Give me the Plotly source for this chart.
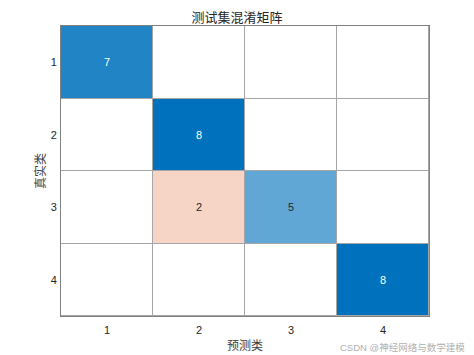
import plotly.graph_objects as go

classes = [1, 2, 3, 4]
class_labels = ["1", "2", "3", "4"]
# rows = true class, cols = predicted class
counts = [
    [7, 0, 0, 0],
    [0, 8, 0, 0],
    [0, 2, 5, 0],
    [0, 0, 0, 8],
]
title = "测试集混淆矩阵"
xlabel = "预测类"
ylabel = "真实类"
watermark = "CSDN @神经网络与数学建模"

vmax = max(max(r) for r in counts)
# signed value: diagonal positive (blue), off-diagonal negative (red)
z = [[(v if i == j else -v) for j, v in enumerate(row)] for i, row in enumerate(counts)]

colorscale = [
    [0.0, "rgb(217,83,25)"],
    [0.5, "rgb(255,255,255)"],
    [1.0, "rgb(0,114,189)"],
]

fig = go.Figure(go.Heatmap(
    x=classes, y=classes, z=z,
    zmin=-vmax, zmax=vmax, colorscale=colorscale,
    showscale=False, xgap=1, ygap=1, hoverinfo="skip",
))

cjk = "Noto Sans CJK SC"
annotations = []
for i, row in enumerate(counts):
    for j, v in enumerate(row):
        if v == 0:
            continue
        color = "white" if (i == j and v / vmax > 0.7) else "#262626"
        annotations.append(dict(x=classes[j], y=classes[i], text=str(v), showarrow=False,
                                font=dict(size=11, color=color, family="Arial")))
# axis titles
annotations.append(dict(x=0.5, y=0, xref="paper", yref="paper", xanchor="center", yanchor="middle",
                        yshift=-28, text=xlabel, showarrow=False,
                        font=dict(size=12, color="#404040", family=cjk)))
annotations.append(dict(x=0, y=0.5, xref="paper", yref="paper", xanchor="center", yanchor="middle",
                        xshift=-22, text=ylabel, textangle=-90, showarrow=False,
                        font=dict(size=12, color="#404040", family=cjk)))
annotations.append(dict(x=1, y=0, xref="paper", yref="paper", xanchor="right", yanchor="middle",
                        xshift=38, yshift=-31, text=watermark, showarrow=False,
                        font=dict(size=9.5, color="#b0b0b0", family="Arial, " + cjk)))
fig.update_layout(annotations=annotations)

fig.update_layout(
    width=474, height=355,
    margin=dict(l=61, r=45, t=26, b=39),
    paper_bgcolor="white", plot_bgcolor="#a6a6a6",
    title=dict(text=title, x=0.5, xanchor="center", yref="container", y=1 - 17 / 355, yanchor="middle",
               font=dict(size=13, color="#262626", family=cjk)),
    font=dict(family="Arial", color="#262626"),
)
fig.update_xaxes(tickfont=dict(size=11), showgrid=False, zeroline=False, ticks="", automargin=False,
                 tickvals=classes, ticktext=class_labels, range=[0.5, 4.5], ticklabelstandoff=4,
                 showline=True, linecolor="#808080", linewidth=1, mirror=True)
fig.update_yaxes(tickfont=dict(size=11), range=[4.5, 0.5], showgrid=False, zeroline=False, ticks="", automargin=False,
                 tickvals=classes, ticktext=class_labels,
                 showline=True, linecolor="#808080", linewidth=1, mirror=True, ticklabelstandoff=1)

fig.write_html("out.html")
